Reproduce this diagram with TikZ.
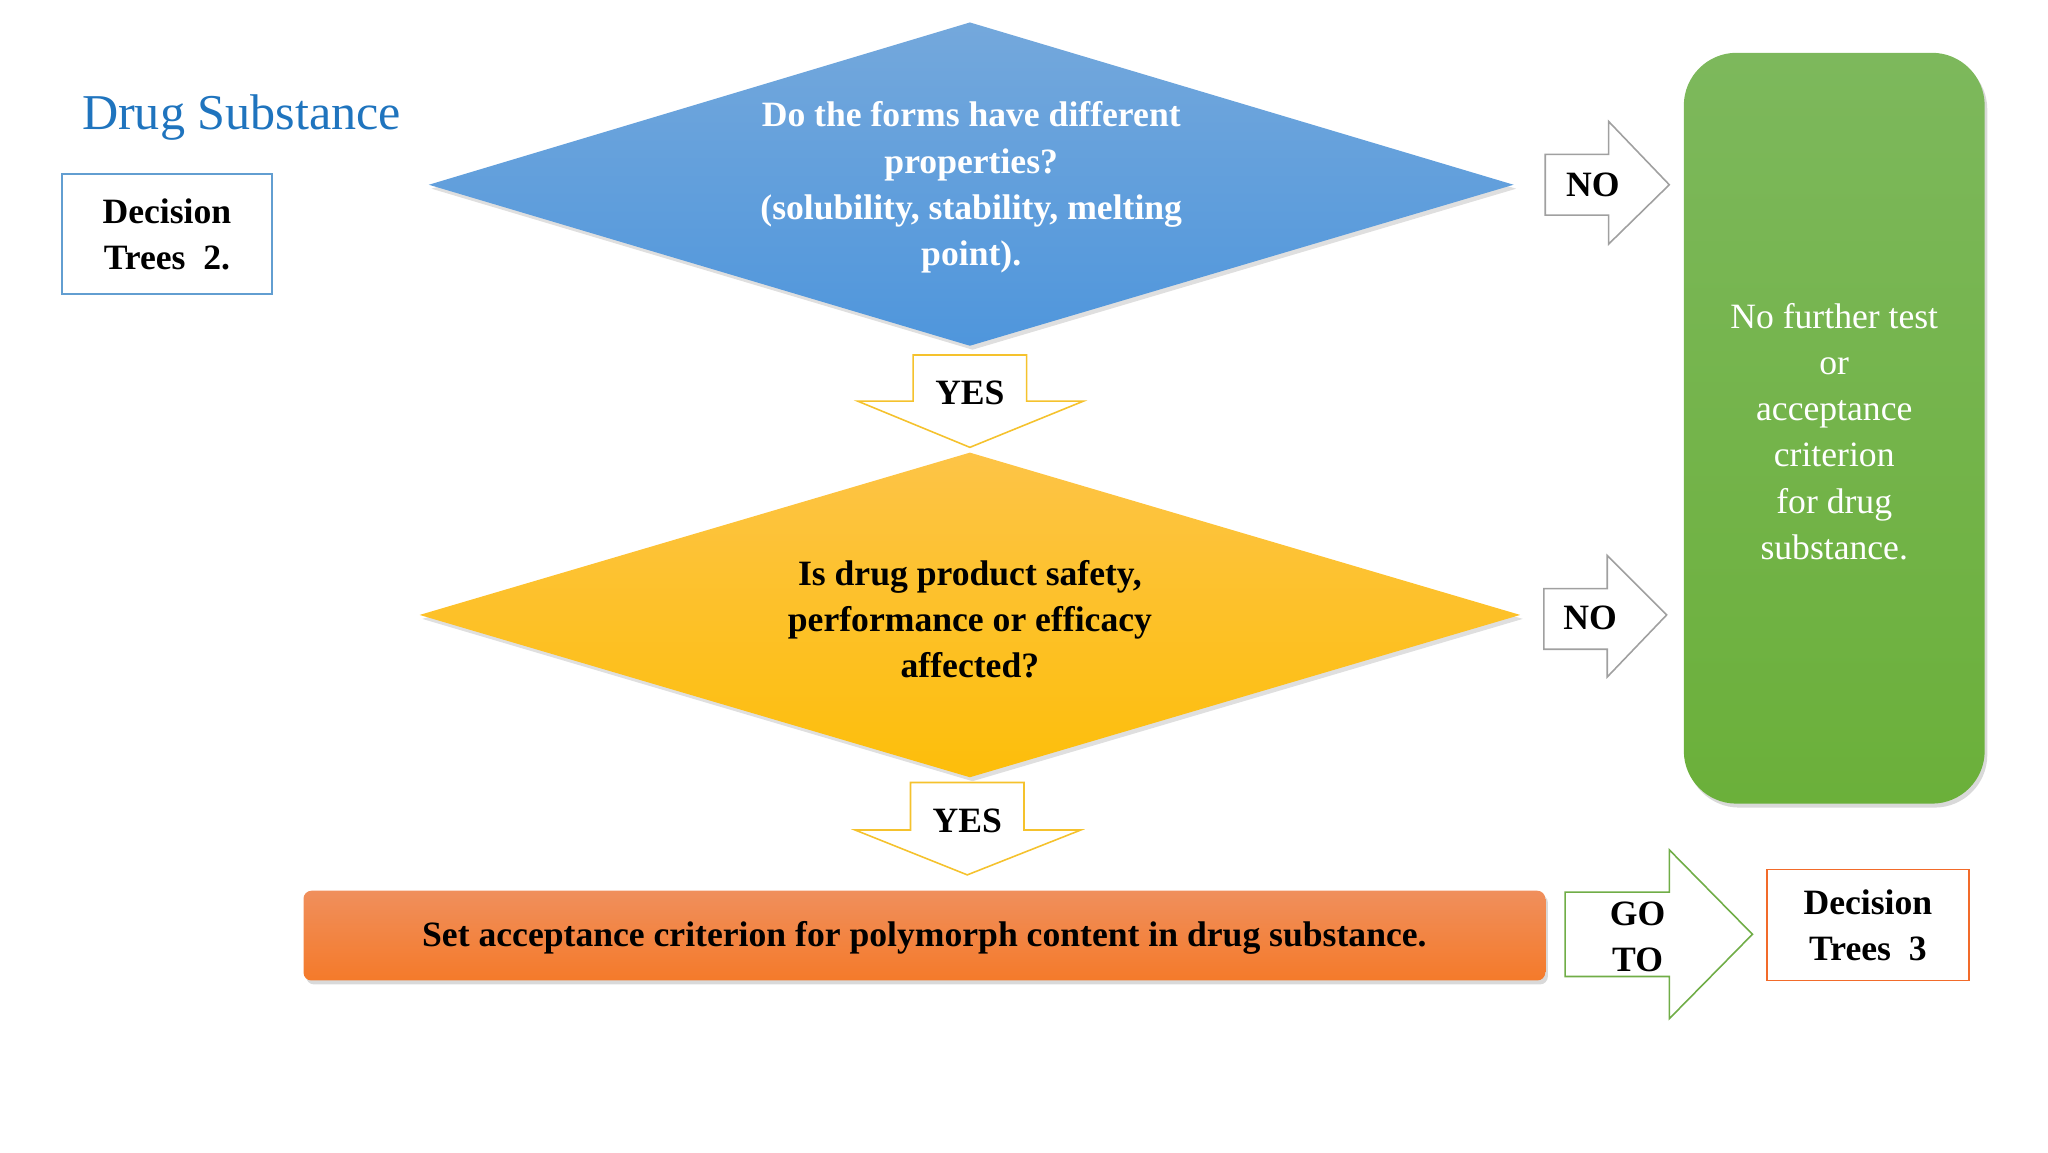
\documentclass[tikz,border=0pt]{standalone}
\usepackage{fontspec}
\setmainfont{Liberation Serif}
\usetikzlibrary{shadows}
\definecolor{dblue}{HTML}{1F74BE}
\definecolor{bluetop}{HTML}{74A8DC}
\definecolor{bluebot}{HTML}{4F96DC}
\definecolor{yeltop}{HTML}{FDC447}
\definecolor{yelbot}{HTML}{FDBE0A}
\definecolor{yelline}{HTML}{F5C22D}
\definecolor{orgtop}{HTML}{F08F5C}
\definecolor{orgbot}{HTML}{F47A2A}
\definecolor{grntop}{HTML}{7DB85C}
\definecolor{grnbot}{HTML}{6BB03A}
\definecolor{grnline}{HTML}{70AD47}
\definecolor{orgline}{HTML}{F26B2A}
\definecolor{greyline}{HTML}{A0A0A0}
\tikzset{
  txt/.style={font=\fontsize{27}{35}\selectfont\bfseries, align=center, inner sep=0},
  arr/.style={line width=1.2pt, fill=white},
}
\begin{document}
\begin{tikzpicture}[x=1pt,y=-1pt]
\useasboundingbox (0,0) rectangle (1552,873);
% title
\node[font=\fontsize{38}{44}\selectfont, text=dblue, inner sep=0] (title) at (183,89) {Drug Substance};
\node[draw=dblue!70, line width=1.2pt, minimum width=159pt, minimum height=91pt, txt] (dt2) at (126.5,177.5) {Decision\\Trees~~2.};
% blue diamond
\shade[top color=bluetop, bottom color=bluebot, drop shadow={opacity=0.25,shadow xshift=2pt,shadow yshift=-3pt}] (325,140) -- (735,17) -- (1147,140) -- (735,262) -- cycle;
\node[txt, text=white] (q1) at (736,142) {Do the forms have different\\properties?\\(solubility, stability, melting\\point).};
% YES arrow 1
\draw[arr, draw=yelline] (692,269) -- (778,269) -- (778,304) -- (821,304) -- (735,339) -- (650,304) -- (692,304) -- cycle;
\node[txt] (yes1) at (735,298) {YES};
% yellow diamond
\shade[top color=yeltop, bottom color=yelbot, drop shadow={opacity=0.25,shadow xshift=2pt,shadow yshift=-3pt}] (318,466) -- (735,343) -- (1152,466) -- (735,589) -- cycle;
\node[txt] (q2) at (735,469) {Is drug product safety,\\performance or efficacy\\affected?};
% YES arrow 2
\draw[arr, draw=yelline] (690,593) -- (776,593) -- (776,629) -- (819,629) -- (733,663) -- (648,629) -- (690,629) -- cycle;
\node[txt] (yes2) at (733,622) {YES};
% orange box
\node[rounded corners=6pt, top color=orgtop, bottom color=orgbot, minimum width=941pt, minimum height=68pt, drop shadow={opacity=0.3,shadow xshift=2pt,shadow yshift=-3pt}] (set) at (700.5,709) {};
\node[txt] (settxt) at (700.5,711) {Set acceptance criterion for polymorph content in drug substance.};
% NO arrows
\draw[arr, draw=greyline] (1171,117) -- (1219,117) -- (1219,92) -- (1265,140) -- (1219,185) -- (1219,163) -- (1171,163) -- cycle;
\node[txt] (no1) at (1207,140) {NO};
\draw[arr, draw=greyline] (1170,446) -- (1218,446) -- (1218,421) -- (1263,466) -- (1218,513) -- (1218,492) -- (1170,492) -- cycle;
\node[txt] (no2) at (1205,468) {NO};
% green box
\node[rounded corners=40pt, top color=grntop, bottom color=grnbot, minimum width=228pt, minimum height=569pt, drop shadow={opacity=0.3,shadow xshift=2pt,shadow yshift=-3pt}] (nofurther) at (1390,324.5) {};
\node[font=\fontsize{27}{35}\selectfont, align=center, text=white, inner sep=0] (nftxt) at (1390,327) {No further test\\or\\acceptance\\criterion\\for drug\\substance.};
% GO TO arrow
\draw[arr, draw=grnline] (1186,676) -- (1265,676) -- (1265,644) -- (1328,708) -- (1265,772) -- (1265,740) -- (1186,740) -- cycle;
\node[txt] (goto) at (1241,710) {GO\\TO};
\node[draw=orgline, line width=1.2pt, minimum width=153pt, minimum height=84pt, txt] (dt3) at (1415.5,701) {Decision\\Trees~~3};
\end{tikzpicture}
\end{document}
